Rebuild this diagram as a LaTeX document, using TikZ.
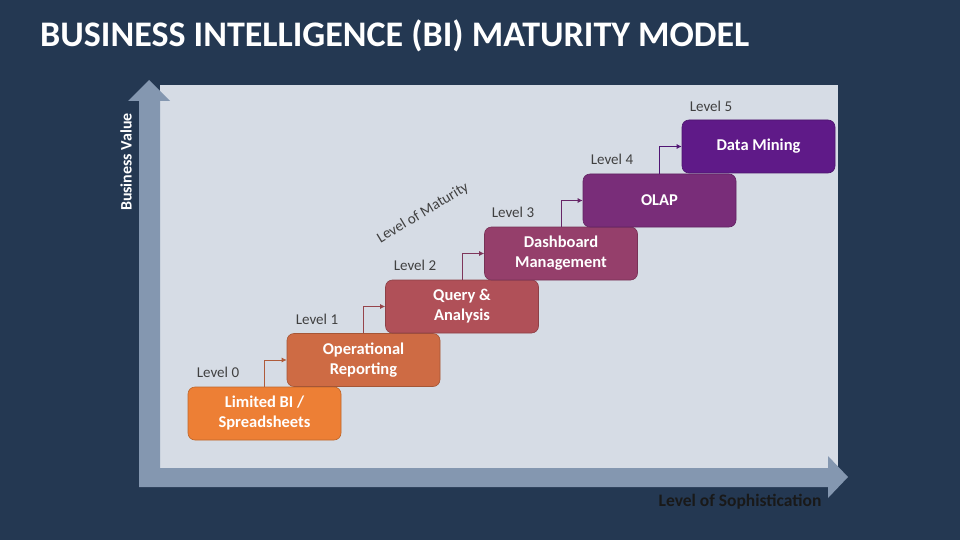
\documentclass[tikz,border=0pt]{standalone}
\usepackage{fontspec}
\setmainfont{Carlito}
\begin{document}
\begin{tikzpicture}[x=1pt,y=-1pt,
 box/.style={rounded corners=7pt,draw=#1!80!black,fill=#1,text=white,font=\fontsize{16.5}{20}\selectfont\bfseries,align=center,minimum width=153pt,minimum height=53pt,inner sep=0pt,line width=0.6pt},
 lvl/.style={text=black!75,font=\fontsize{15}{17}\selectfont},
 con/.style={draw=#1!85!black,line width=0.8pt,-{Latex[length=5pt,width=5pt]}}]
\usetikzlibrary{arrows.meta}
\definecolor{bg}{HTML}{243852}
\definecolor{panel}{HTML}{D6DCE5}
\definecolor{axis}{HTML}{8497B0}
\definecolor{c0}{HTML}{ED7F35}
\definecolor{c1}{HTML}{CE6B44}
\definecolor{c2}{HTML}{B05058}
\definecolor{c3}{HTML}{953F6B}
\definecolor{c4}{HTML}{792D79}
\definecolor{c5}{HTML}{5F1A88}
\fill[bg] (0,0) rectangle (960,540);
\useasboundingbox (0,0) rectangle (960,540);
\fill[panel] (160,85) rectangle (838,468);
\fill[axis] (139,487) -- (139,101) -- (128,101) -- (149,80) -- (170,101) -- (160,101) -- (160,468) -- (828,468) -- (828,456) -- (848,477) -- (828,498) -- (828,487) -- cycle;
\node[anchor=west,text=white,font=\fontsize{36}{40}\selectfont\bfseries,inner sep=0pt] (title) at (40,36) {BUSINESS INTELLIGENCE (BI) MATURITY MODEL};
\node[rotate=90,text=white,font=\fontsize{16}{18}\selectfont\bfseries] (bv) at (126,162) {Business Value};
\node[text=black!90,font=\fontsize{17.5}{20}\selectfont\bfseries] (ls) at (740,502) {Level of Sophistication};
\node[rotate=31,lvl] (lm) at (423,213) {Level of Maturity};
\node[box=c0] (b0) at (264.5,413.5) {Limited BI /\\Spreadsheets};
\node[box=c1] (b1) at (363.5,360) {Operational\\Reporting};
\node[box=c2] (b2) at (462,306.5) {Query \&\\Analysis};
\node[box=c3] (b3) at (561,253.5) {Dashboard\\Management};
\node[box=c4] (b4) at (659.5,200.5) {OLAP};
\node[box=c5] (b5) at (758.5,146.5) {Data Mining};
\node[lvl] (l0) at (218,372) {Level 0};
\node[lvl] (l1) at (317,319) {Level 1};
\node[lvl] (l2) at (415,265) {Level 2};
\node[lvl] (l3) at (513,212) {Level 3};
\node[lvl] (l4) at (612,159) {Level 4};
\node[lvl] (l5) at (711,106) {Level 5};
\draw[con=c1] (b0.north) |- (b1.west);
\draw[con=c2] (b1.north) |- (b2.west);
\draw[con=c3] (b2.north) |- (b3.west);
\draw[con=c4] (b3.north) |- (b4.west);
\draw[con=c5] (b4.north) |- (b5.west);
\end{tikzpicture}
\end{document}
